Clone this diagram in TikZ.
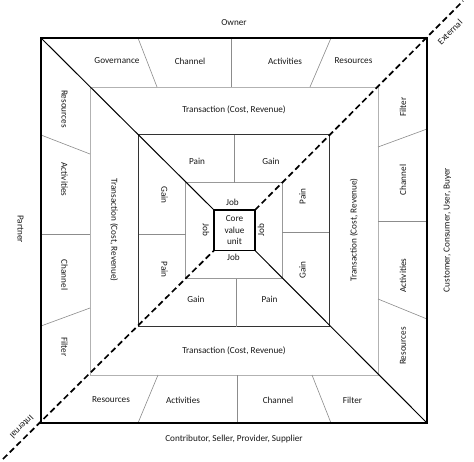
\documentclass[tikz,border=0pt]{standalone}
\usepackage{fontspec}
\setmainfont{Carlito}
\begin{document}
\begin{tikzpicture}[x=1pt,y=-1pt,
  sq/.style={draw,rectangle,inner sep=0pt,outer sep=0pt},
  divl/.style={draw=black!45,line width=0.6pt},
  lbl/.style={font=\fontsize{9.2}{11}\selectfont,inner sep=0pt,text=black!90},
  lft/.style={lbl,rotate=-90},
  rgt/.style={lbl,rotate=90},
  dashline/.style={line width=1.7pt,dash pattern=on 6pt off 3.5pt},
  diagline/.style={line width=1pt}]
\useasboundingbox (0,0) rectangle (474,461);
\fill[white] (0,0) rectangle (474,461);
% squares
\node[sq,draw=black!30,line width=0.8pt,minimum width=288pt,minimum height=288pt] (s2) at (234,231) {};
\node[sq,draw=black!80,line width=1pt,minimum width=191pt,minimum height=192pt] (s3) at (234,230.5) {};
\node[sq,draw=black!40,line width=0.7pt,minimum width=97pt,minimum height=96pt] (s4) at (234,230.7) {};
% dividers outer ring
\draw[divl] (138,38) -- (157,87);
\draw[divl] (231,38) -- (231,87);
\draw[divl] (331,38) -- (310,87);
\draw[divl] (41,135) -- (90,154);
\draw[divl] (41,234) -- (90,234);
\draw[divl] (41,326) -- (90,308);
\draw[divl] (378,147) -- (427,129);
\draw[divl] (378,221) -- (427,221);
\draw[divl] (378,299) -- (427,319);
\draw[divl] (158,375) -- (138,423);
\draw[divl] (237,375) -- (237,423);
\draw[divl] (312,375) -- (331,423);
% dividers pain/gain ring
\draw[divl] (234,135) -- (234,183);
\draw[divl] (139,234) -- (186,234);
\draw[divl] (282,232) -- (329,232);
\draw[divl] (236,279) -- (236,327);
% core and outer
\node[sq,line width=1.2pt,minimum width=41pt,minimum height=40.5pt,
  align=center,font=\fontsize{9.2}{11.3}\selectfont,text=black!90] (core) at (234.5,230.25) {Core\\value\\unit};
\node[sq,line width=1.7pt,minimum width=386pt,minimum height=385pt] (s1) at (234,230.5) {};
% diagonals
\draw[diagline] (s1.north west) -- (core.north west);
\draw[diagline] (core.south east) -- (s1.south east);
\coordinate (intend) at (3,459);
\coordinate (extend) at (463,1);
\draw[dashline] (intend) -- (core.south west);
\draw[dashline] (core.north east) -- (extend);
% outer labels
\node[lbl] (owner) at (234,23) {Owner};
\node[lft] (partner) at (20.5,229) {Partner};
\node[rgt] (customer) at (447.5,230) {Customer, Consumer, User, Buyer};
\node[lbl] (contrib) at (234,439) {Contributor, Seller, Provider, Supplier};
\node[lbl,rotate=45] (external) at (450,32) {External};
\node[lbl,rotate=225] (internal) at (22,427) {Internal};
% top band
\node[lbl] (tgov) at (117,61) {Governance};
\node[lbl] (tch) at (190,61) {Channel};
\node[lbl] (tact) at (285,61) {Activities};
\node[lbl] (tres) at (353.5,61) {Resources};
% left band
\node[lft] (lres) at (64.5,109) {Resources};
\node[lft] (lact) at (64.5,179.5) {Activities};
\node[lft] (lch) at (64.5,275) {Channel};
\node[lft] (lfil) at (64.5,347) {Filter};
% right band
\node[rgt] (rfil) at (403,107) {Filter};
\node[rgt] (rch) at (403,180) {Channel};
\node[rgt] (ract) at (403,275.5) {Activities};
\node[rgt] (rres) at (403,346) {Resources};
% bottom band
\node[lbl] (bres) at (111,400) {Resources};
\node[lbl] (bact) at (183,400) {Activities};
\node[lbl] (bch) at (278,400) {Channel};
\node[lbl] (bfil) at (352.5,400) {Filter};
% transaction ring
\node[lbl] (ttr) at (234,109.5) {Transaction (Cost, Revenue)};
\node[lft] (ltr) at (114,230) {Transaction (Cost, Revenue)};
\node[rgt] (rtr) at (354,230) {Transaction (Cost, Revenue)};
\node[lbl] (btr) at (234,350.5) {Transaction (Cost, Revenue)};
% pain gain ring
\node[lbl] (tpain) at (197,161) {Pain};
\node[lbl] (tgain) at (271,161) {Gain};
\node[lft] (lgain) at (164.5,195) {Gain};
\node[lft] (lpain) at (164.5,269.5) {Pain};
\node[rgt] (rpain) at (302.5,196.5) {Pain};
\node[rgt] (rgain) at (302.5,270) {Gain};
\node[lbl] (bgain) at (196,299) {Gain};
\node[lbl] (bpain) at (269.5,299) {Pain};
% job ring
\node[lbl] (tjob) at (232.5,202.5) {Job};
\node[lft] (ljob) at (206,230) {Job};
\node[rgt] (rjob) at (261,230) {Job};
\node[lbl] (bjob) at (233.5,257.5) {Job};
\end{tikzpicture}
\end{document}
